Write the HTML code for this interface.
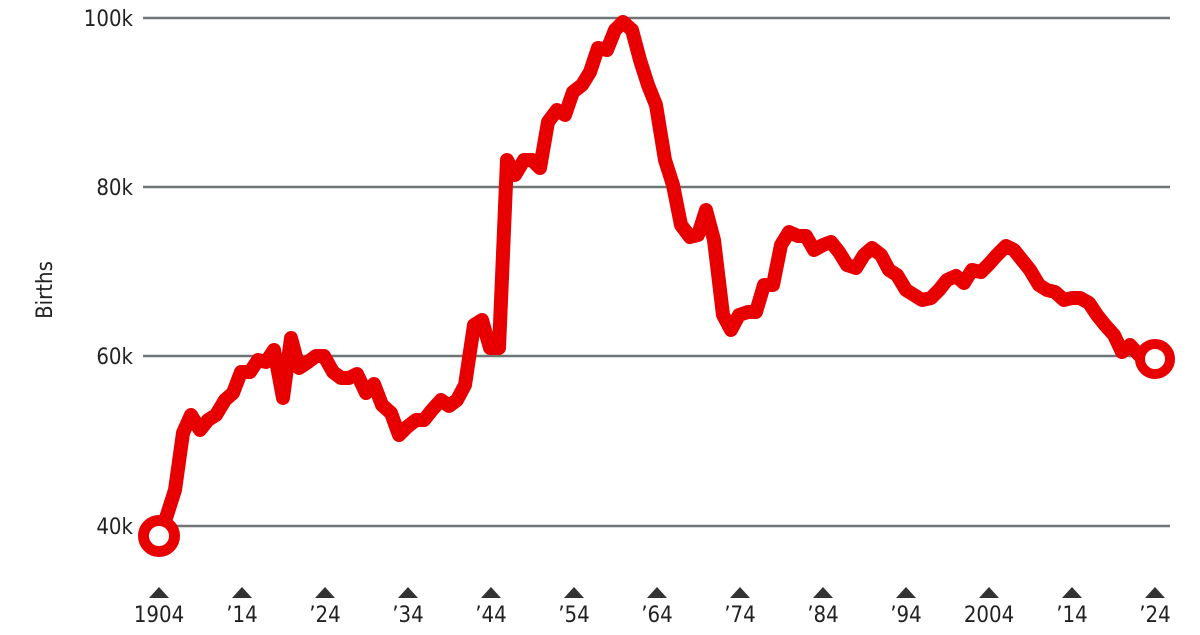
<!DOCTYPE html>
<html><head><meta charset="utf-8"><style>
body{margin:0;background:#fff}
svg text{font-family:"DejaVu Sans Condensed","Liberation Sans Narrow","Liberation Sans",sans-serif;fill:#222}
</style></head><body>
<svg width="1200" height="630" viewBox="0 0 1200 630">
<g stroke="#6e7577" stroke-width="2.5">
<line x1="143" y1="18" x2="1170" y2="18"/>
<line x1="143" y1="187" x2="1170" y2="187"/>
<line x1="143" y1="356" x2="1170" y2="356"/>
<line x1="143" y1="526" x2="1170" y2="526"/>
</g>
<g font-size="22" text-anchor="end">
<text x="133" y="26">100k</text>
<text x="133" y="195">80k</text>
<text x="133" y="364">60k</text>
<text x="133" y="534">40k</text>
</g>
<text x="52" y="290" font-size="22" text-anchor="middle" transform="rotate(-90 52 290)">Births</text>
<g fill="#333">
<path d="M149,598 L159,587 L169,598Z"/><path d="M232,598 L242,587 L252,598Z"/><path d="M315,598 L325,587 L335,598Z"/><path d="M398,598 L408,587 L418,598Z"/><path d="M481,598 L491,587 L501,598Z"/><path d="M564,598 L574,587 L584,598Z"/><path d="M647,598 L657,587 L667,598Z"/><path d="M730,598 L740,587 L750,598Z"/><path d="M813,598 L823,587 L833,598Z"/><path d="M896,598 L906,587 L916,598Z"/><path d="M979,598 L989,587 L999,598Z"/><path d="M1062,598 L1072,587 L1082,598Z"/><path d="M1145,598 L1155,587 L1165,598Z"/>
</g>
<g font-size="22" text-anchor="middle">
<text x="159" y="622">1904</text><text x="242" y="622">’14</text><text x="325" y="622">’24</text><text x="408" y="622">’34</text><text x="491" y="622">’44</text><text x="574" y="622">’54</text><text x="657" y="622">’64</text><text x="740" y="622">’74</text><text x="823" y="622">’84</text><text x="906" y="622">’94</text><text x="989" y="622">2004</text><text x="1072" y="622">’14</text><text x="1155" y="622">’24</text>
</g>
<polyline fill="none" stroke="#e80000" stroke-width="14" stroke-linejoin="round" stroke-linecap="round" points="159,536 167,515 175,490 183,433 191,415 200,430 208,420 216,415 225,400 233,393 241,372 250,372 258,360 266,362 274,350 283,398 291,338 299,368 308,362 316,356 324,356 333,372 341,378 349,378 357,374 366,393 374,384 382,405 391,413 399,435 407,427 416,420 424,420 432,410 441,400 449,406 457,400 465,385 474,325 482,320 490,348 499,348 507,160 515,175 524,160 532,160 540,168 548,122 557,110 565,115 573,92 582,85 590,72 598,48 607,50 615,30 623,22 632,30 640,60 648,85 656,105 665,160 673,185 681,225 690,237 698,235 706,210 714,240 723,315 731,330 739,315 748,312 756,312 764,285 773,285 781,245 789,232 798,236 806,236 814,250 823,245 831,242 839,252 847,265 856,268 864,255 872,248 881,255 889,270 897,275 906,290 914,295 922,300 931,298 939,290 947,280 956,276 964,283 972,270 981,272 989,264 997,255 1006,246 1014,250 1022,260 1030,270 1039,285 1047,290 1055,292 1064,300 1072,298 1080,298 1089,303 1097,315 1105,325 1114,335 1122,352 1130,345 1139,355 1147,355 1155,360"/>
<circle cx="159" cy="536" r="15.5" fill="#fff" stroke="#e80000" stroke-width="11"/>
<circle cx="1155" cy="359" r="15" fill="#fff" stroke="#e80000" stroke-width="10"/>
</svg>
</body></html>
